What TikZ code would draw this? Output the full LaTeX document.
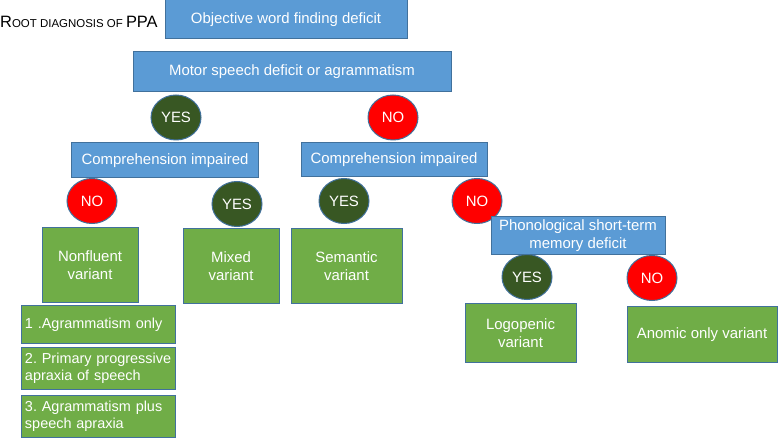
\documentclass[tikz,border=0pt]{standalone}
\usepackage{fontspec}
\setmainfont{Liberation Sans}
\usetikzlibrary{shapes.geometric}
\definecolor{blu}{HTML}{5B9BD5}
\definecolor{bord}{HTML}{41719C}
\definecolor{grn}{HTML}{70AD47}
\definecolor{dgrn}{HTML}{385723}
\definecolor{rd}{HTML}{FF0000}
\frenchspacing
\begin{document}
\begin{tikzpicture}[x=1bp,y=-1bp,
  base/.style={draw=bord, line width=1bp, inner sep=0pt, text=white,
    font=\fontsize{15}{18}\selectfont, align=center},
  bluebox/.style={base, fill=blu},
  grnbox/.style={base, fill=grn},
  listbox/.style={base, fill=grn, align=left, text width=147bp, inner xsep=3bp,
    font=\fontsize{14.5}{17.5}\selectfont},
  yesdot/.style={base, fill=dgrn, ellipse, minimum width=50bp, minimum height=45bp},
  nodot/.style={base, fill=rd, ellipse, minimum width=50bp, minimum height=45bp}]
\useasboundingbox (0,0) rectangle (778,438);
\node[anchor=base west, inner sep=0pt] (title) at (0,28)
  {\fontsize{16.5}{19}\selectfont R\fontsize{11.5}{13}\selectfont OOT DIAGNOSIS OF \fontsize{16.5}{19}\selectfont PPA};
\node[bluebox, minimum width=242bp, minimum height=39bp] (obj) at (286,19.5) {Objective word finding deficit};
\node[bluebox, minimum width=318bp, minimum height=40bp] (motor) at (292,72) {Motor speech deficit or agrammatism};
\node[yesdot] (yes1) at (176,117.5) {YES};
\node[nodot] (no1) at (393,117.5) {NO};
\node[bluebox, minimum width=186bp, minimum height=35bp] (compL) at (165,160.5) {Comprehension impaired};
\node[bluebox, minimum width=186bp, minimum height=34bp] (compR) at (394,160) {Comprehension impaired};
\node[nodot] (noL) at (92,201) {NO};
\node[yesdot] (yesM) at (237,204) {YES};
\node[yesdot] (yesS) at (344,201) {YES};
\node[nodot] (noP) at (477,201) {NO};
\node[bluebox, minimum width=174bp, minimum height=38bp] (phono) at (578,236) {Phonological short-term\\memory deficit};
\node[yesdot] (yesLg) at (527,277) {YES};
\node[nodot] (noA) at (652,278) {NO};
\node[grnbox, minimum width=96bp, minimum height=75bp] (nonfl) at (90,265.5) {Nonfluent\\variant};
\node[grnbox, minimum width=96bp, minimum height=75bp] (mixed) at (231,266.5) {Mixed\\variant};
\node[grnbox, minimum width=111bp, minimum height=75bp] (seman) at (346.5,266.5) {Semantic\\variant};
\node[grnbox, minimum width=111bp, minimum height=58bp] (logo) at (520.5,333) {Logopenic\\variant};
\node[grnbox, minimum width=150bp, minimum height=55bp] (anom) at (702,334.5) {Anomic only variant};
\node[listbox, minimum height=37bp] (l1) at (98.5,324.5) {\mbox{1 .Agrammatism only}};
\node[listbox, minimum height=41bp] (l2) at (98.5,368.5) {\mbox{2. Primary progressive}\\\mbox{apraxia of speech}};
\node[listbox, minimum height=42bp] (l3) at (98.5,416) {\mbox{3. Agrammatism plus}\\\mbox{speech apraxia}};
\end{tikzpicture}
\end{document}
